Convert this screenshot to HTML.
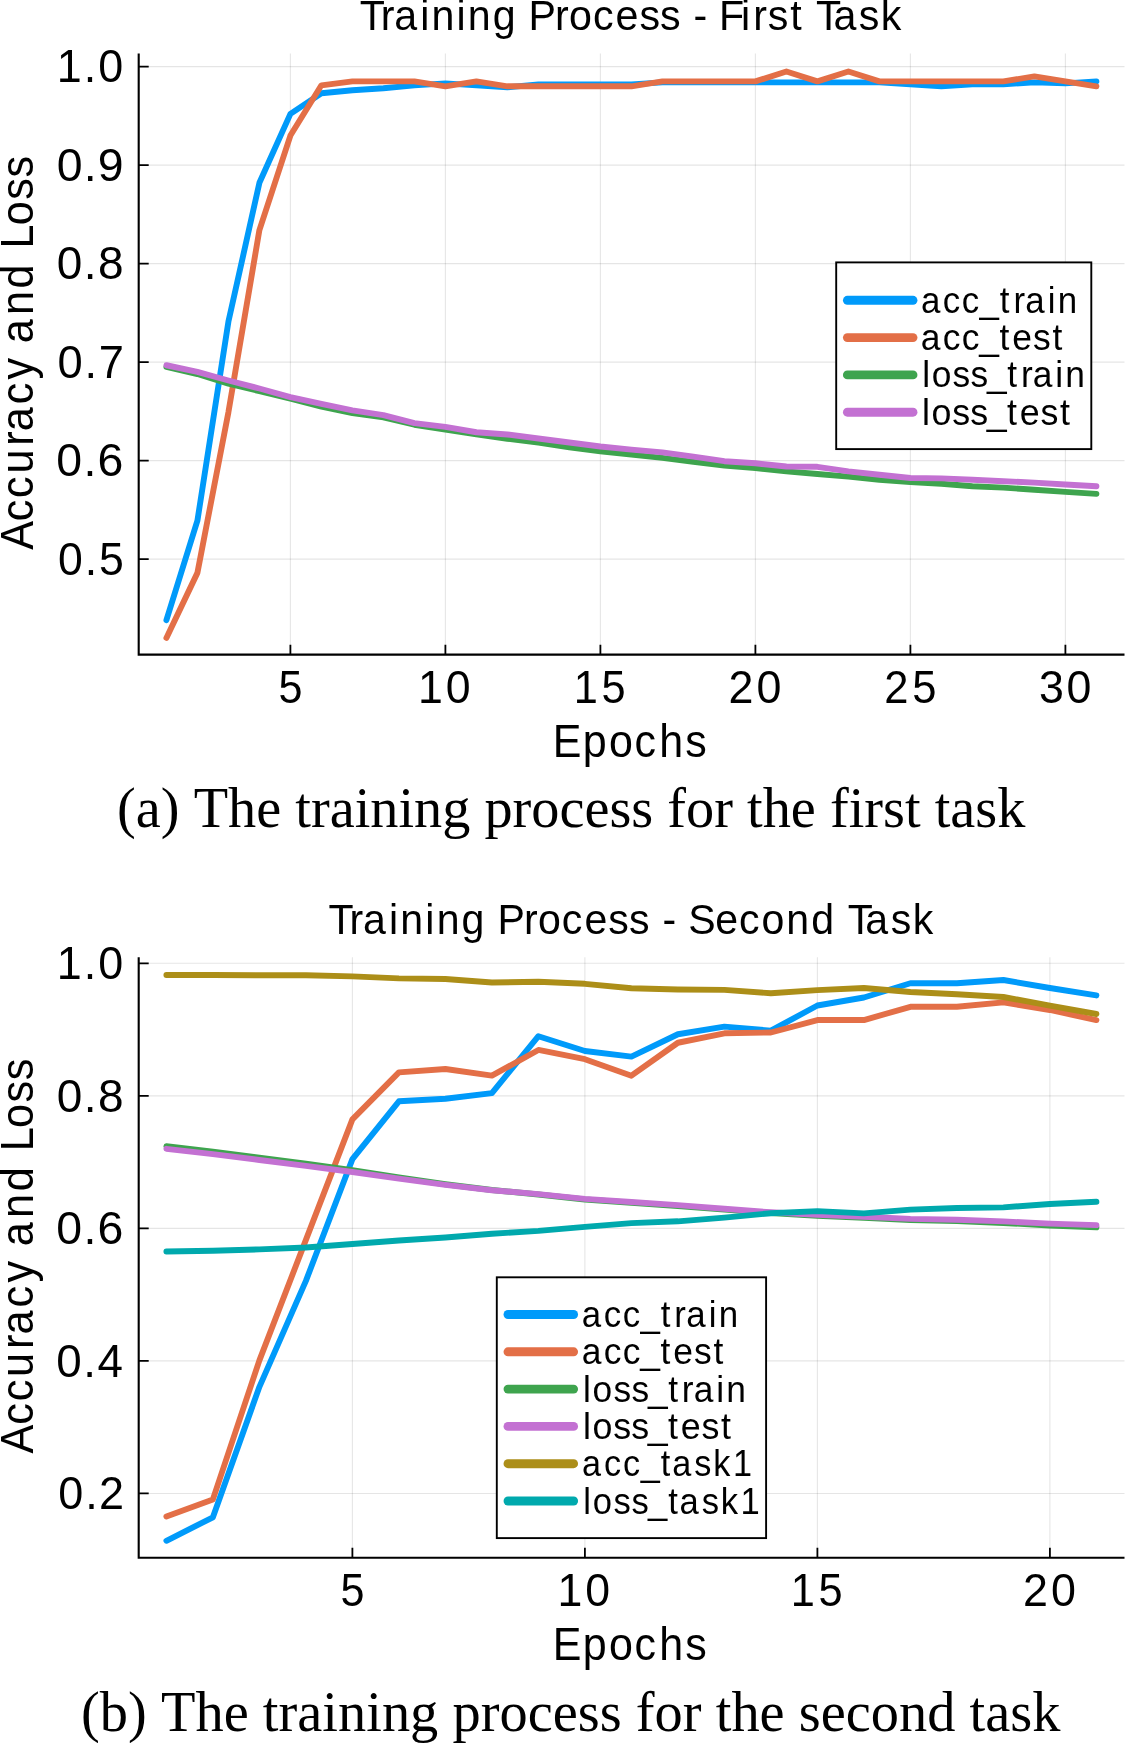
<!DOCTYPE html>
<html><head><meta charset="utf-8"><title>Training Process</title>
<style>
html,body{margin:0;padding:0;background:#fff;}
svg{display:block;will-change:transform;}
text{font-kerning:none;font-variant-ligatures:none;}
</style></head>
<body>
<svg width="1125" height="1743" viewBox="0 0 1125 1743">
<rect width="1125" height="1743" fill="#fff"/>
<path d="M290.40,53.50V654.65M445.40,53.50V654.65M600.40,53.50V654.65M755.40,53.50V654.65M910.40,53.50V654.65M1065.40,53.50V654.65" stroke="#000" stroke-opacity="0.1" stroke-width="1.1" fill="none"/>
<path d="M138.70,559.10H1124.50M138.70,460.60H1124.50M138.70,362.10H1124.50M138.70,263.60H1124.50M138.70,165.10H1124.50M138.70,66.60H1124.50" stroke="#000" stroke-opacity="0.1" stroke-width="1.1" fill="none"/>
<polyline points="166.40,620.17 197.40,520.68 228.40,321.72 259.40,182.83 290.40,113.88 321.40,93.20 352.40,90.24 383.40,88.27 414.40,85.32 445.40,83.35 476.40,85.32 507.40,87.29 538.40,84.33 569.40,84.33 600.40,84.33 631.40,84.33 662.40,82.36 693.40,82.36 724.40,82.36 755.40,82.36 786.40,82.36 817.40,82.36 848.40,82.36 879.40,82.36 910.40,84.33 941.40,86.30 972.40,84.33 1003.40,84.33 1034.40,82.36 1065.40,83.35 1096.40,81.38" fill="none" stroke="#009AFA" stroke-width="5.9" stroke-linecap="round" stroke-linejoin="round"/>
<polyline points="166.40,637.90 197.40,572.89 228.40,412.34 259.40,230.11 290.40,135.55 321.40,85.32 352.40,81.38 383.40,81.38 414.40,81.38 445.40,86.30 476.40,81.38 507.40,86.30 538.40,86.30 569.40,86.30 600.40,86.30 631.40,86.30 662.40,81.38 693.40,81.38 724.40,81.38 755.40,81.38 786.40,71.53 817.40,81.38 848.40,71.53 879.40,81.38 910.40,81.38 941.40,81.38 972.40,81.38 1003.40,81.38 1034.40,76.45 1065.40,81.38 1096.40,86.30" fill="none" stroke="#E36F47" stroke-width="5.9" stroke-linecap="round" stroke-linejoin="round"/>
<polyline points="166.40,366.93 197.40,374.02 228.40,383.67 259.40,391.16 290.40,398.74 321.40,406.72 352.40,413.12 383.40,417.26 414.40,424.75 445.40,429.57 476.40,434.40 507.40,438.73 538.40,442.67 569.40,447.30 600.40,451.34 631.40,454.69 662.40,457.94 693.40,461.88 724.40,465.62 755.40,468.09 786.40,471.34 817.40,474.00 848.40,476.66 879.40,479.91 910.40,481.97 941.40,483.75 972.40,486.21 1003.40,487.59 1034.40,489.76 1065.40,491.92 1096.40,493.89" fill="none" stroke="#3EA44E" stroke-width="5.9" stroke-linecap="round" stroke-linejoin="round"/>
<polyline points="166.40,365.25 197.40,371.85 228.40,380.52 259.40,388.50 290.40,397.07 321.40,403.96 352.40,410.37 383.40,415.19 414.40,423.17 445.40,426.91 476.40,432.23 507.40,434.50 538.40,438.54 569.40,442.48 600.40,446.51 631.40,449.67 662.40,452.42 693.40,456.66 724.40,461.19 755.40,463.26 786.40,466.51 817.40,466.81 848.40,471.34 879.40,474.78 910.40,478.03 941.40,478.33 972.40,479.81 1003.40,481.19 1034.40,482.66 1065.40,484.44 1096.40,486.21" fill="none" stroke="#C371D2" stroke-width="5.9" stroke-linecap="round" stroke-linejoin="round"/>
<path d="M138.70,53.50V655.65M137.70,654.65H1124.50" stroke="#000" stroke-width="2.1" fill="none"/>
<path d="M290.40,654.65V644.65M445.40,654.65V644.65M600.40,654.65V644.65M755.40,654.65V644.65M910.40,654.65V644.65M1065.40,654.65V644.65M138.70,559.10H148.70M138.70,460.60H148.70M138.70,362.10H148.70M138.70,263.60H148.70M138.70,165.10H148.70M138.70,66.60H148.70" stroke="#000" stroke-width="1.8" fill="none"/>
<text transform="translate(0,702.62) scale(0.9389,1)" x="296.59" y="0" font-size="45.88" font-family='"Liberation Sans", sans-serif' fill="#000">5</text>
<text transform="translate(0,703.19) scale(0.9736,1)" x="429.35 457.87" y="0" font-size="45.88" font-family='"Liberation Sans", sans-serif' fill="#000">10</text>
<text transform="translate(0,702.62) scale(0.9442,1)" x="607.77 636.97" y="0" font-size="45.88" font-family='"Liberation Sans", sans-serif' fill="#000">15</text>
<text transform="translate(0,703.19) scale(0.9773,1)" x="745.35 774.12" y="0" font-size="45.88" font-family='"Liberation Sans", sans-serif' fill="#000">20</text>
<text transform="translate(0,703.19) scale(0.9487,1)" x="932.07 961.53" y="0" font-size="45.88" font-family='"Liberation Sans", sans-serif' fill="#000">25</text>
<text transform="translate(0,703.19) scale(0.9752,1)" x="1065.45 1093.64" y="0" font-size="45.88" font-family='"Liberation Sans", sans-serif' fill="#000">30</text>
<text transform="translate(0,574.86) scale(0.9719,1)" x="59.56 87.19 101.90" y="0" font-size="45.88" font-family='"Liberation Sans", sans-serif' fill="#000">0.5</text>
<text transform="translate(0,476.36) scale(1.0128,1)" x="55.60 82.37 96.39" y="0" font-size="45.88" font-family='"Liberation Sans", sans-serif' fill="#000">0.6</text>
<text transform="translate(0,377.86) scale(0.9877,1)" x="58.32 85.61 100.06" y="0" font-size="45.88" font-family='"Liberation Sans", sans-serif' fill="#000">0.7</text>
<text transform="translate(0,279.36) scale(1.0021,1)" x="56.56 83.55 97.79" y="0" font-size="45.88" font-family='"Liberation Sans", sans-serif' fill="#000">0.8</text>
<text transform="translate(0,180.86) scale(1.0118,1)" x="55.97 82.76 96.67" y="0" font-size="45.88" font-family='"Liberation Sans", sans-serif' fill="#000">0.9</text>
<text transform="translate(0,82.36) scale(0.9781,1)" x="57.94 85.66 100.40" y="0" font-size="45.88" font-family='"Liberation Sans", sans-serif' fill="#000">1.0</text>
<text transform="translate(0,29.90) scale(0.9768,1)" x="368.22 389.69 403.50 430.22 441.80 467.33 478.91 504.39 529.29 541.13 568.21 582.64 606.98 630.08 654.59 675.80 696.66 709.93 724.30 735.99 758.68 771.15 786.08 808.97 822.91 835.41 853.20 879.27 901.72" y="0" font-size="42.17" font-family='"Liberation Sans", sans-serif' fill="#000">Training Process - First Task</text>
<text transform="translate(0,757.05) scale(0.9440,1)" x="585.57 617.20 645.13 672.18 698.26 725.97" y="0" font-size="45.56" font-family='"Liberation Sans", sans-serif' fill="#000">Epochs</text>
<text transform="rotate(-90) translate(0,32.50) scale(0.9535,1)" x="-576.67 -546.69 -522.21 -496.70 -467.38 -452.18 -423.89 -397.96 -373.43 -359.89 -330.38 -302.52 -275.48 -260.57 -236.27 -209.48 -186.27" y="0" font-size="45.35" font-family='"Liberation Sans", sans-serif' fill="#000">Accuracy and Loss</text>
<rect x="836.20" y="262.40" width="255.10" height="186.70" fill="#fff" stroke="#000" stroke-width="1.9"/>
<path d="M847.40,300.30H913.00" stroke="#009AFA" stroke-width="8.9" stroke-linecap="round"/>
<text transform="translate(0,312.80) scale(0.9513,1)" x="968.03 991.12 1011.12 1029.67 1050.84 1065.26 1077.72 1101.39 1111.91" y="0" font-size="36.66" font-family='"Liberation Sans", sans-serif' fill="#000">acc_train</text>
<path d="M847.40,337.60H913.00" stroke="#E36F47" stroke-width="8.9" stroke-linecap="round"/>
<text transform="translate(0,350.10) scale(0.9660,1)" x="953.10 975.86 995.55 1013.82 1034.73 1047.83 1069.39 1089.47" y="0" font-size="36.66" font-family='"Liberation Sans", sans-serif' fill="#000">acc_test</text>
<path d="M847.40,374.90H913.00" stroke="#3EA44E" stroke-width="8.9" stroke-linecap="round"/>
<text transform="translate(0,387.40) scale(0.9630,1)" x="957.57 967.44 989.06 1007.78 1024.91 1045.88 1060.11 1072.36 1095.83 1106.15" y="0" font-size="36.66" font-family='"Liberation Sans", sans-serif' fill="#000">loss_train</text>
<path d="M847.40,412.20H913.00" stroke="#C371D2" stroke-width="8.9" stroke-linecap="round"/>
<text transform="translate(0,424.70) scale(0.9779,1)" x="942.93 952.55 973.86 992.30 1009.16 1029.88 1042.76 1064.07 1083.95" y="0" font-size="36.66" font-family='"Liberation Sans", sans-serif' fill="#000">loss_test</text>
<text transform="translate(0,827.40) scale(1.0017,1)" x="116.92 135.64 160.58 179.30 193.35 227.68 255.78 280.72 294.77 310.38 329.10 354.04 369.66 397.76 413.37 441.47 469.57 483.62 511.72 530.44 558.54 583.48 608.42 630.30 652.17 666.22 684.93 713.03 731.75 745.80 761.41 789.51 814.45 828.50 847.22 862.83 881.55 903.42 919.03 933.08 948.70 973.64 995.51" y="0" font-size="56.20" font-family='"Liberation Serif", serif' fill="#000">(a) The training process for the first task</text>
<path d="M352.40,957.20V1557.70M584.90,957.20V1557.70M817.40,957.20V1557.70M1049.90,957.20V1557.70" stroke="#000" stroke-opacity="0.1" stroke-width="1.1" fill="none"/>
<path d="M138.70,1493.46H1124.50M138.70,1360.92H1124.50M138.70,1228.38H1124.50M138.70,1095.84H1124.50M138.70,963.30H1124.50" stroke="#000" stroke-opacity="0.1" stroke-width="1.1" fill="none"/>
<polyline points="166.40,1540.78 212.90,1517.28 259.40,1386.84 305.90,1280.91 352.40,1159.08 398.90,1101.28 445.40,1098.70 491.90,1093.07 538.40,1036.20 584.90,1051.03 631.40,1056.59 677.90,1034.28 724.40,1026.66 770.90,1030.63 817.40,1005.47 863.90,997.53 910.40,983.29 956.90,983.29 1003.40,979.98 1049.90,987.99 1096.40,995.41" fill="none" stroke="#009AFA" stroke-width="5.9" stroke-linecap="round" stroke-linejoin="round"/>
<polyline points="166.40,1516.48 212.90,1499.40 259.40,1360.36 305.90,1239.86 352.40,1119.36 398.90,1072.35 445.40,1069.04 491.90,1075.66 538.40,1049.97 584.90,1059.17 631.40,1075.66 677.90,1042.75 724.40,1033.28 770.90,1032.49 817.40,1020.04 863.90,1020.04 910.40,1006.80 956.90,1006.80 1003.40,1002.43 1049.90,1009.98 1096.40,1020.04" fill="none" stroke="#E36F47" stroke-width="5.9" stroke-linecap="round" stroke-linejoin="round"/>
<polyline points="166.40,1146.30 212.90,1151.73 259.40,1157.69 305.90,1163.78 352.40,1170.20 398.90,1177.49 445.40,1184.24 491.90,1190.00 538.40,1194.44 584.90,1199.47 631.40,1202.78 677.90,1205.96 724.40,1209.67 770.90,1213.18 817.40,1215.76 863.90,1217.68 910.40,1219.99 956.90,1221.12 1003.40,1222.97 1049.90,1225.49 1096.40,1227.28" fill="none" stroke="#3EA44E" stroke-width="5.9" stroke-linecap="round" stroke-linejoin="round"/>
<polyline points="166.40,1148.82 212.90,1154.12 259.40,1160.01 305.90,1165.90 352.40,1171.99 398.90,1178.68 445.40,1184.90 491.90,1190.20 538.40,1194.17 584.90,1198.87 631.40,1201.99 677.90,1205.10 724.40,1208.81 770.90,1212.31 817.40,1214.83 863.90,1216.68 910.40,1218.87 956.90,1219.80 1003.40,1221.39 1049.90,1223.64 1096.40,1225.09" fill="none" stroke="#C371D2" stroke-width="5.9" stroke-linecap="round" stroke-linejoin="round"/>
<polyline points="166.40,975.02 212.90,975.02 259.40,975.22 305.90,975.28 352.40,976.34 398.90,978.33 445.40,978.99 491.90,982.50 538.40,981.71 584.90,983.82 631.40,988.26 677.90,989.45 724.40,989.92 770.90,993.29 817.40,990.11 863.90,987.99 910.40,992.03 956.90,994.22 1003.40,997.00 1049.90,1005.61 1096.40,1014.02" fill="none" stroke="#AC8E18" stroke-width="5.9" stroke-linecap="round" stroke-linejoin="round"/>
<polyline points="166.40,1251.51 212.90,1250.72 259.40,1249.33 305.90,1247.47 352.40,1244.03 398.90,1240.52 445.40,1237.54 491.90,1233.70 538.40,1230.92 584.90,1226.88 631.40,1223.17 677.90,1221.32 724.40,1217.61 770.90,1213.24 817.40,1211.12 863.90,1213.37 910.40,1209.60 956.90,1208.01 1003.40,1207.41 1049.90,1203.97 1096.40,1201.79" fill="none" stroke="#00A9AD" stroke-width="5.9" stroke-linecap="round" stroke-linejoin="round"/>
<path d="M138.70,957.20V1558.70M137.70,1557.70H1124.50" stroke="#000" stroke-width="2.1" fill="none"/>
<path d="M352.40,1557.70V1547.70M584.90,1557.70V1547.70M817.40,1557.70V1547.70M1049.90,1557.70V1547.70M138.70,1493.46H148.70M138.70,1360.92H148.70M138.70,1228.38H148.70M138.70,1095.84H148.70M138.70,963.30H148.70" stroke="#000" stroke-width="1.8" fill="none"/>
<text transform="translate(0,1605.67) scale(0.9389,1)" x="362.63" y="0" font-size="45.88" font-family='"Liberation Sans", sans-serif' fill="#000">5</text>
<text transform="translate(0,1606.24) scale(0.9736,1)" x="572.63 601.15" y="0" font-size="45.88" font-family='"Liberation Sans", sans-serif' fill="#000">10</text>
<text transform="translate(0,1605.67) scale(0.9442,1)" x="837.58 866.79" y="0" font-size="45.88" font-family='"Liberation Sans", sans-serif' fill="#000">15</text>
<text transform="translate(0,1606.24) scale(0.9773,1)" x="1046.69 1075.46" y="0" font-size="45.88" font-family='"Liberation Sans", sans-serif' fill="#000">20</text>
<text transform="translate(0,1509.22) scale(0.9814,1)" x="59.42 86.85 100.94" y="0" font-size="45.88" font-family='"Liberation Sans", sans-serif' fill="#000">0.2</text>
<text transform="translate(0,1376.68) scale(0.9972,1)" x="56.37 83.46 97.79" y="0" font-size="45.88" font-family='"Liberation Sans", sans-serif' fill="#000">0.4</text>
<text transform="translate(0,1244.14) scale(1.0128,1)" x="55.60 82.37 96.39" y="0" font-size="45.88" font-family='"Liberation Sans", sans-serif' fill="#000">0.6</text>
<text transform="translate(0,1111.60) scale(1.0021,1)" x="56.56 83.55 97.79" y="0" font-size="45.88" font-family='"Liberation Sans", sans-serif' fill="#000">0.8</text>
<text transform="translate(0,979.06) scale(0.9781,1)" x="57.94 85.66 100.40" y="0" font-size="45.88" font-family='"Liberation Sans", sans-serif' fill="#000">1.0</text>
<text transform="translate(0,933.80) scale(0.9645,1)" x="340.52 362.26 376.28 403.33 415.09 440.94 452.71 478.53 503.73 515.77 543.20 557.84 582.51 605.92 630.76 652.26 673.37 686.83 701.37 713.60 741.61 766.27 789.54 815.31 841.14 866.33 879.05 897.08 923.50 946.25" y="0" font-size="42.60" font-family='"Liberation Sans", sans-serif' fill="#000">Training Process - Second Task</text>
<text transform="translate(0,1660.10) scale(0.9440,1)" x="585.57 617.20 645.13 672.18 698.26 725.97" y="0" font-size="45.56" font-family='"Liberation Sans", sans-serif' fill="#000">Epochs</text>
<text transform="rotate(-90) translate(0,32.50) scale(0.9559,1)" x="-1520.48 -1490.50 -1466.02 -1440.51 -1411.19 -1395.99 -1367.70 -1341.77 -1317.24 -1303.70 -1274.19 -1246.33 -1219.30 -1204.38 -1180.08 -1153.29 -1130.08" y="0" font-size="45.35" font-family='"Liberation Sans", sans-serif' fill="#000">Accuracy and Loss</text>
<rect x="496.80" y="1277.30" width="269.30" height="260.80" fill="#fff" stroke="#000" stroke-width="1.9"/>
<path d="M508.00,1314.50H573.60" stroke="#009AFA" stroke-width="8.9" stroke-linecap="round"/>
<text transform="translate(0,1327.00) scale(0.9513,1)" x="611.66 634.75 654.75 673.31 694.47 708.90 721.35 745.02 755.54" y="0" font-size="36.66" font-family='"Liberation Sans", sans-serif' fill="#000">acc_train</text>
<path d="M508.00,1351.80H573.60" stroke="#E36F47" stroke-width="8.9" stroke-linecap="round"/>
<text transform="translate(0,1364.30) scale(0.9660,1)" x="602.17 624.93 644.62 662.88 683.80 696.90 718.45 738.54" y="0" font-size="36.66" font-family='"Liberation Sans", sans-serif' fill="#000">acc_test</text>
<path d="M508.00,1389.10H573.60" stroke="#3EA44E" stroke-width="8.9" stroke-linecap="round"/>
<text transform="translate(0,1401.60) scale(0.9630,1)" x="605.53 615.40 637.02 655.74 672.88 693.84 708.07 720.32 743.80 754.11" y="0" font-size="36.66" font-family='"Liberation Sans", sans-serif' fill="#000">loss_train</text>
<path d="M508.00,1426.40H573.60" stroke="#C371D2" stroke-width="8.9" stroke-linecap="round"/>
<text transform="translate(0,1438.90) scale(0.9779,1)" x="596.25 605.88 627.19 645.62 662.48 683.20 696.08 717.39 737.28" y="0" font-size="36.66" font-family='"Liberation Sans", sans-serif' fill="#000">loss_test</text>
<path d="M508.00,1463.70H573.60" stroke="#AC8E18" stroke-width="8.9" stroke-linecap="round"/>
<text transform="translate(0,1476.20) scale(0.9340,1)" x="623.16 646.65 667.02 685.93 707.39 719.64 743.27 763.76 784.70" y="0" font-size="36.66" font-family='"Liberation Sans", sans-serif' fill="#000">acc_task1</text>
<path d="M508.00,1501.00H573.60" stroke="#00A9AD" stroke-width="8.9" stroke-linecap="round"/>
<text transform="translate(0,1513.50) scale(0.9444,1)" x="617.51 627.69 649.71 668.80 686.29 707.58 719.63 743.02 763.27 783.98" y="0" font-size="36.66" font-family='"Liberation Sans", sans-serif' fill="#000">loss_task1</text>
<text transform="translate(0,1730.50) scale(0.9989,1)" x="81.11 99.93 128.18 146.99 161.12 195.63 223.88 248.96 263.08 278.78 297.59 322.67 338.37 366.62 382.32 410.57 438.82 452.94 481.19 500.01 528.26 553.33 578.41 600.40 622.39 636.51 655.33 683.58 702.39 716.52 732.21 760.46 785.54 799.67 821.65 846.73 871.81 900.06 928.31 956.56 970.68 986.38 1011.46 1033.45" y="0" font-size="56.50" font-family='"Liberation Serif", serif' fill="#000">(b) The training process for the second task</text>
</svg>
</body></html>
